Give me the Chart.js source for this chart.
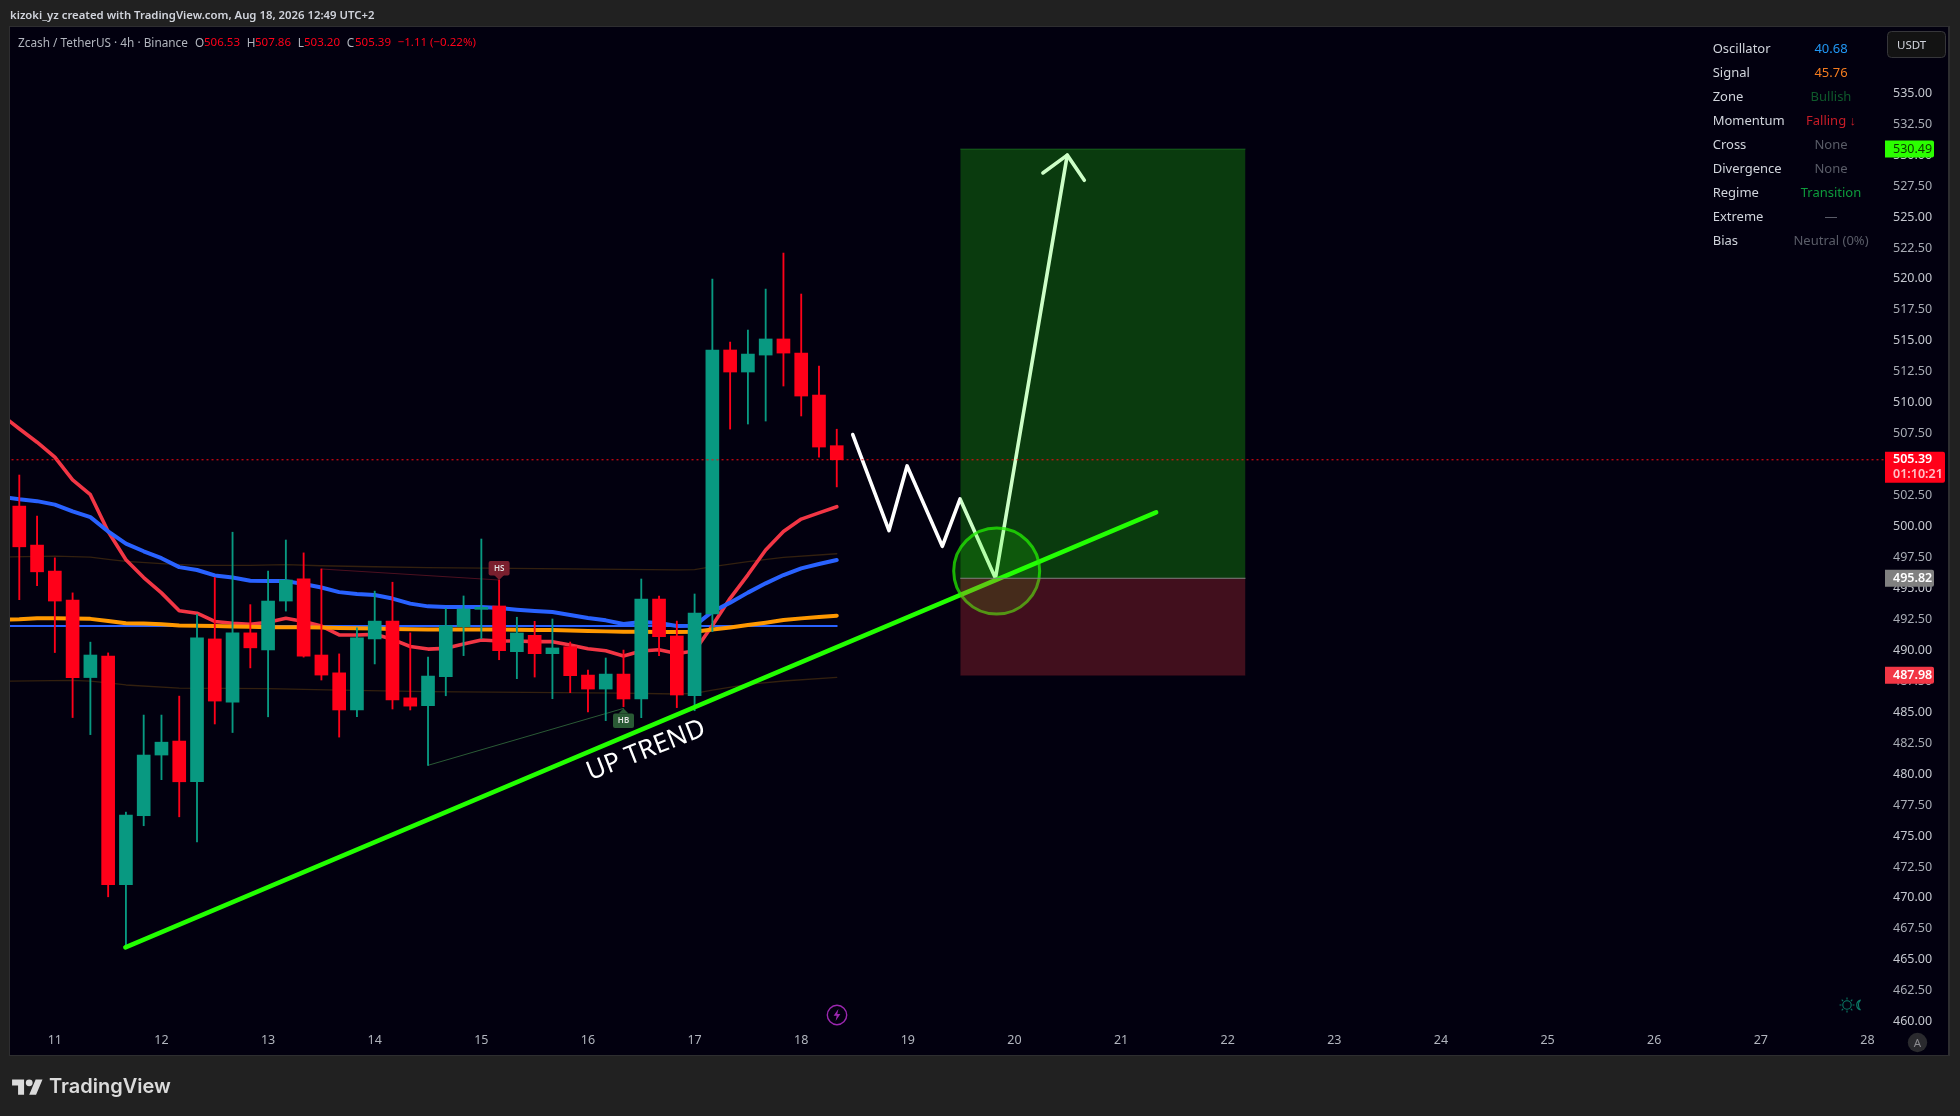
<!DOCTYPE html>
<html>
<head>
<meta charset="utf-8">
<title>Zcash / TetherUS 4h</title>
<script src="https://cdn.jsdelivr.net/npm/chart.js@4"></script>
<style>
html, body { margin: 0; padding: 0; background: #212121; overflow: hidden; }
#wrap { position: relative; width: 1960px; height: 1116px; }
#chart { position: absolute; left: 0; top: 0; }
.txt { position: absolute; white-space: nowrap; font-family: "Noto Sans", sans-serif; font-size: 11.8px; line-height: 16px; transform: translateY(-50%); }
.mid { transform: translate(-50%, -50%); }
</style>
</head>
<body>
<div id="wrap"><canvas id="chart" width="1960" height="1116"></canvas></div>
<script>
// candles, one every 4h
const opens = [501.65, 498.50, 496.40, 494.06, 487.80, 489.53, 471.07, 476.64, 481.54, 482.67, 479.38, 490.92, 485.81, 491.41, 490.03, 493.98, 495.77, 489.62, 488.18, 485.18, 490.92, 492.36, 486.16, 485.53, 487.87, 491.91, 493.31, 493.58, 489.89, 491.21, 489.73, 490.29, 488.00, 486.87, 488.08, 486.07, 494.14, 491.16, 486.33, 492.93, 514.26, 512.48, 513.85, 515.15, 514.01, 510.62, 506.53];
const highs = [504.16, 500.84, 497.47, 494.64, 490.66, 489.79, 476.93, 484.77, 484.77, 486.30, 492.91, 495.88, 499.54, 493.69, 496.40, 498.91, 497.87, 496.57, 489.71, 491.81, 494.78, 495.50, 491.41, 489.46, 493.39, 494.39, 498.99, 495.68, 492.67, 492.34, 492.53, 490.67, 488.41, 489.38, 490.02, 495.76, 494.39, 492.36, 494.55, 519.99, 514.90, 515.87, 519.18, 522.09, 518.78, 512.96, 507.86];
const lows = [494.09, 495.22, 489.82, 484.57, 483.19, 470.09, 465.99, 475.83, 479.55, 476.55, 474.53, 484.05, 483.36, 488.58, 484.63, 493.17, 489.45, 487.60, 482.99, 484.63, 488.90, 485.26, 485.18, 480.71, 486.33, 489.57, 490.94, 489.24, 487.71, 487.84, 486.09, 486.58, 485.02, 484.32, 485.45, 484.56, 489.57, 485.37, 485.12, 491.50, 507.87, 508.28, 508.52, 511.35, 508.93, 505.61, 503.20];
const closes = [498.36, 496.34, 493.98, 487.80, 489.62, 471.07, 476.70, 481.54, 482.58, 479.38, 491.00, 485.90, 491.41, 490.20, 493.98, 495.68, 489.53, 488.00, 485.18, 491.00, 492.36, 485.99, 485.49, 487.92, 491.99, 493.34, 493.47, 489.97, 491.40, 489.73, 490.19, 487.95, 486.87, 488.08, 486.07, 494.14, 491.10, 486.39, 493.00, 514.26, 512.48, 513.93, 515.15, 514.01, 510.54, 506.42, 505.39];

// moving averages, first value sits one bar left of the first candle
const redLine = [509.00, 507.90, 506.81, 505.60, 503.76, 502.57, 499.60, 497.32, 495.88, 494.64, 493.20, 493.00, 492.33, 492.19, 492.10, 492.27, 492.59, 492.33, 491.96, 491.24, 491.24, 491.29, 490.89, 490.31, 490.10, 490.16, 490.51, 490.83, 490.75, 490.75, 490.70, 490.70, 490.43, 490.13, 489.97, 489.54, 489.94, 490.05, 489.75, 489.94, 492.00, 494.20, 496.10, 498.10, 499.60, 500.60, 501.10, 501.60];
const blueLine = [502.40, 502.20, 502.05, 501.77, 501.22, 500.76, 499.60, 498.62, 498.00, 497.44, 496.72, 496.49, 496.05, 495.88, 495.62, 495.59, 495.59, 495.36, 495.07, 494.70, 494.55, 494.47, 494.18, 493.77, 493.55, 493.50, 493.50, 493.50, 493.42, 493.28, 493.17, 493.09, 492.85, 492.61, 492.42, 492.12, 492.29, 492.20, 491.96, 491.99, 493.12, 493.85, 494.66, 495.41, 496.08, 496.62, 496.97, 497.29];
const orangeLine = [492.48, 492.50, 492.59, 492.59, 492.56, 492.54, 492.36, 492.19, 492.16, 492.10, 492.01, 491.99, 491.96, 491.93, 491.90, 491.87, 491.87, 491.87, 491.84, 491.81, 491.79, 491.76, 491.73, 491.70, 491.68, 491.68, 491.68, 491.68, 491.68, 491.67, 491.65, 491.64, 491.61, 491.56, 491.53, 491.50, 491.50, 491.48, 491.48, 491.50, 491.69, 491.85, 492.04, 492.23, 492.45, 492.58, 492.69, 492.80];
const flatBlueX = [-1, 46];
const flatBlue = [491.96, 491.96];

const upperBandX = [-1, 2, 4, 5, 6, 8, 10, 13, 15, 17, 20, 23, 34, 37, 38, 39, 41, 43, 46];
const upperBand = [497.53, 497.61, 497.53, 497.35, 497.18, 497.00, 496.86, 496.86, 496.92, 496.83, 496.75, 496.68, 496.54, 496.50, 496.52, 496.76, 497.16, 497.51, 497.80];
const lowerBandX = [-1, 3, 4, 5, 6, 9, 14, 18, 23, 34, 37, 38, 39, 41, 43, 46];
const lowerBand = [487.51, 487.57, 487.51, 487.37, 487.20, 486.94, 486.91, 486.79, 486.67, 486.55, 486.47, 486.52, 486.79, 487.25, 487.52, 487.82];

// divergence lines from the indicator
const bearDivX = [17, 27];
const bearDiv = [496.57, 495.68];
const bullDivX = [23, 34];
const bullDiv = [480.71, 485.31];

// drawings
const trendX = [5.97, 63.97];
const trendY = [466.00, 501.15];
const pathX = [46.9, 48.94, 49.96, 51.94, 52.94, 54.93, 58.97];
const pathY = [507.43, 499.67, 504.90, 498.40, 502.23, 495.82, 530.00];
const headX = [57.6, 58.97, 59.93];
const headY = [528.56, 530.00, 527.97];
const circleX = [55.0];
const circleY = [496.4];
const boxX = [52.95, 69];
const targetPrice = 530.49;
const entryPrice = 495.82;
const stopPrice = 487.98;
const lastPrice = 505.39;

// axes
const priceTicks = [460, 462.5, 465, 467.5, 470, 472.5, 475, 477.5, 480, 482.5, 485, 487.5, 490, 492.5, 495, 497.5, 500, 502.5, 505, 507.5, 510, 512.5, 515, 517.5, 520, 522.5, 525, 527.5, 530, 532.5, 535];
const dayTicks = [2, 8, 14, 20, 26, 32, 38, 44, 50, 56, 62, 68, 74, 80, 86, 92, 98, 104];
const dayLabels = ["11", "12", "13", "14", "15", "16", "17", "18", "19", "20", "21", "22", "23", "24", "25", "26", "27", "28"];

// indicator table
const tableNames = ["Oscillator", "Signal", "Zone", "Momentum", "Cross", "Divergence", "Regime", "Extreme", "Bias"];
const tableValues = ["40.68", "45.76", "Bullish", "Falling ↓", "None", "None", "Transition", "—", "Neutral (0%)"];
const tableColors = ["#2196f3", "#f57c1f", "#0f5a2c", "#c81c28", "#5a5c68", "#5a5c68", "#0e9a3c", "#5a5c68", "#5a5c68"];

const BG = "#02000f";
const UP = "#089981";
const DOWN = "#ff0019";
const FONT = '"Noto Sans", sans-serif';

function points(xs, ys) {
    return xs.map((x, i) => ({ x: x, y: ys[i] }));
}

function lineSet(xs, ys, color, width, order, extra) {
    return Object.assign({
        type: "line",
        data: points(xs, ys),
        borderColor: color,
        borderWidth: width,
        pointRadius: 0,
        tension: 0,
        fill: false,
        borderJoinStyle: "round",
        borderCapStyle: "round",
        order: order
    }, extra || {});
}

let barIndex = opens.map((v, i) => i);
let maIndex = redLine.map((v, i) => i - 1);
let candleColors = opens.map((v, i) => closes[i] >= v ? UP : DOWN);

function drawTag(ctx, y, top, height, width, fill, text, color, weight) {
    ctx.fillStyle = fill;
    ctx.beginPath();
    ctx.roundRect(1885, top, width, height, [0, 2, 2, 0]);
    ctx.fill();
    ctx.fillStyle = color;
    ctx.font = (weight || "400") + " 12.5px " + FONT;
    ctx.textAlign = "left";
    ctx.textBaseline = "middle";
    ctx.fillText(text, 1893, y);
}

function drawMarker(ctx, x, y, text, fill, down) {
    // little flag sitting on the pivot bar
    let top = down ? y - 19 : y + 5;
    ctx.fillStyle = fill;
    ctx.beginPath();
    ctx.roundRect(x - 10.5, top, 21, 14.5, 2);
    ctx.fill();
    ctx.beginPath();
    if (down) {
        ctx.moveTo(x - 5, y - 5);
        ctx.lineTo(x, y);
        ctx.lineTo(x + 5, y - 5);
    } else {
        ctx.moveTo(x - 5, y + 5);
        ctx.lineTo(x, y);
        ctx.lineTo(x + 5, y + 5);
    }
    ctx.fill();
    ctx.fillStyle = "#e4e4e4";
    ctx.font = "600 8px " + FONT;
    ctx.textAlign = "center";
    ctx.textBaseline = "middle";
    ctx.fillText(text, x, top + 7.5);
}

const tvPlugin = {
    id: "tvPlugin",
    beforeDraw(chart) {
        let ctx = chart.ctx;
        ctx.save();
        ctx.fillStyle = "#212121";
        ctx.fillRect(0, 0, 1960, 1116);
        ctx.fillStyle = "#2e2e30";
        ctx.fillRect(9, 26, 1941, 1030);
        ctx.fillStyle = BG;
        ctx.fillRect(10, 27, 1938, 1028);
        ctx.restore();
    },
    afterDatasetsDraw(chart) {
        let ctx = chart.ctx;
        let xs = chart.scales.x;
        let ys = chart.scales.y;
        ctx.save();
        drawMarker(ctx, xs.getPixelForValue(27), ys.getPixelForValue(495.68), "HS", "#7a1f2e", true);
        drawMarker(ctx, xs.getPixelForValue(34), ys.getPixelForValue(485.31), "HB", "#2a5a35", false);

        // label follows the trendline
        ctx.translate(xs.getPixelForValue(35.27), ys.getPixelForValue(481.9));
        ctx.rotate(-21.5 * Math.PI / 180);
        ctx.fillStyle = "#ffffff";
        ctx.font = "400 26px " + FONT;
        ctx.textAlign = "center";
        ctx.textBaseline = "middle";
        ctx.fillText("UP TREND", 0, 0);
        ctx.restore();
    },
    afterDraw(chart) {
        let ctx = chart.ctx;
        let ys = chart.scales.y;
        ctx.save();
        drawTag(ctx, ys.getPixelForValue(targetPrice), ys.getPixelForValue(targetPrice) - 8.5, 17, 49, "#2bff00", targetPrice.toFixed(2), "#0b3a00");
        drawTag(ctx, ys.getPixelForValue(entryPrice), ys.getPixelForValue(entryPrice) - 8.5, 17, 49, "#808080", entryPrice.toFixed(2), "#ffffff", "600");
        drawTag(ctx, ys.getPixelForValue(stopPrice), ys.getPixelForValue(stopPrice) - 8.5, 17, 49, "#f23645", stopPrice.toFixed(2), "#ffffff", "600");
        let lastY = ys.getPixelForValue(lastPrice);
        drawTag(ctx, lastY, lastY - 8, 31, 60, DOWN, lastPrice.toFixed(2), "#ffffff", "600");
        ctx.fillStyle = "#ffc0c6";
        ctx.fillText("01:10:21", 1893, lastY + 15);
        ctx.restore();
    }
};

new Chart(document.getElementById("chart"), {
    type: "bar",
    data: {
        datasets: [
            // top of the stack first: the position boxes cover the drawings
            lineSet([-1, 105], [lastPrice, lastPrice], "#ff0a14", 1, 0, { borderDash: [2, 3], borderCapStyle: "butt" }),
            lineSet(boxX, [entryPrice, entryPrice], "#808080", 1, 1, { borderCapStyle: "butt" }),
            lineSet(boxX, [targetPrice, targetPrice], "rgba(50,190,60,0.35)", 1, 2, { fill: { value: entryPrice }, backgroundColor: "rgba(40,255,12,0.23)", borderCapStyle: "butt" }),
            lineSet(boxX, [stopPrice, stopPrice], "rgba(255,60,70,0.1)", 1, 2, { fill: { value: entryPrice }, backgroundColor: "rgba(255,60,70,0.25)", borderCapStyle: "butt" }),
            {
                type: "scatter",
                data: points(circleX, circleY),
                pointRadius: 43,
                pointHoverRadius: 43,
                backgroundColor: "rgba(40,255,0,0.15)",
                borderColor: "rgba(35,235,0,0.75)",
                borderWidth: 3,
                order: 3
            },
            lineSet(trendX, trendY, "#22ff00", 4.6, 4),
            lineSet(headX, headY, "#ffffff", 3.6, 5),
            lineSet(pathX, pathY, "#ffffff", 3.6, 5),
            {
                type: "bar",
                data: barIndex.map((x, i) => ({ x: x, y: [opens[i], closes[i]] })),
                backgroundColor: candleColors,
                barThickness: 13,
                grouped: false,
                order: 6
            },
            {
                type: "bar",
                data: barIndex.map((x, i) => ({ x: x, y: [lows[i], highs[i]] })),
                backgroundColor: candleColors,
                barThickness: 1.2,
                grouped: false,
                order: 7
            },
            lineSet(bullDivX, bullDiv, "#2a5a35", 1, 8),
            lineSet(bearDivX, bearDiv, "#4c1020", 1.2, 8),
            lineSet(maIndex, orangeLine, "#ff9800", 4, 9),
            lineSet(flatBlueX, flatBlue, "#2962ff", 2, 10),
            lineSet(maIndex, blueLine, "#2962ff", 4, 9),
            lineSet(maIndex, redLine, "#f23645", 3.6, 9),
            lineSet(upperBandX, upperBand, "#33200f", 1.3, 11),
            lineSet(lowerBandX, lowerBand, "#33200f", 1.3, 11)
        ]
    },
    plugins: [tvPlugin],
    options: {
        responsive: false,
        animation: false,
        events: [],
        // autoPadding off, or the big circle point pushes the plot area in
        layout: { autoPadding: false, padding: { left: 10, top: 27, right: 11, bottom: 60 } },
        plugins: { legend: { display: false }, tooltip: { enabled: false } },
        scales: {
            x: {
                type: "linear",
                offset: false,
                min: -0.523,
                max: 104.93,
                grid: { display: false, drawTicks: false },
                border: { display: false },
                afterBuildTicks(scale) { scale.ticks = dayTicks.map(v => ({ value: v })); },
                afterFit(scale) { scale.height = 26; },
                ticks: {
                    autoSkip: false,
                    maxRotation: 0,
                    padding: 3,
                    color: "#b2b5be",
                    font: { family: FONT, size: 12.5 },
                    callback(value) { return dayLabels[dayTicks.indexOf(value)]; }
                }
            },
            y: {
                position: "right",
                min: 459.33,
                max: 540.35,
                grid: { display: false, drawTicks: false },
                border: { display: false },
                afterBuildTicks(scale) { scale.ticks = priceTicks.map(v => ({ value: v })); },
                afterFit(scale) { scale.width = 65; },
                ticks: {
                    autoSkip: false,
                    padding: 9,
                    color(ctx) { return ctx.tick.value % 5 === 0 ? "#c4c6ce" : "#a8abb4"; },
                    font: { family: FONT, size: 12.5 },
                    callback(value) { return value.toFixed(2); }
                }
            }
        }
    }
});

// page text around the chart
let wrap = document.getElementById("wrap");

function addText(text, x, y, color, opts) {
    let el = document.createElement("div");
    el.className = "txt";
    el.innerText = text;
    el.style.left = x + "px";
    el.style.top = y + "px";
    el.style.color = color;
    if (opts) {
        if (opts.center) el.classList.add("mid");
        if (opts.size) el.style.fontSize = opts.size + "px";
        if (opts.weight) el.style.fontWeight = opts.weight;
        if (opts.family) el.style.fontFamily = opts.family;
    }
    wrap.appendChild(el);
    return el;
}

function addSvg(markup) {
    let holder = document.createElement("div");
    holder.innerHTML = markup;
    holder.firstChild.style.position = "absolute";
    wrap.appendChild(holder.firstChild);
}

addText("kizoki_yz created with TradingView.com, Aug 18, 2026 12:49 UTC+2", 10, 14.7, "#d1d4dc", { weight: 600, size: 11.35 });

addText("Zcash / TetherUS · 4h · Binance", 18, 41.5, "#b2b5be", { size: 11.8 });
addText("O", 195, 41.5, "#b2b5be");
addText("506.53", 204, 41.5, DOWN, { size: 11.5 });
addText("H", 246.7, 41.5, "#b2b5be");
addText("507.86", 255, 41.5, DOWN, { size: 11.5 });
addText("L", 297.7, 41.5, "#b2b5be");
addText("503.20", 304, 41.5, DOWN, { size: 11.5 });
addText("C", 346.7, 41.5, "#b2b5be");
addText("505.39", 355, 41.5, DOWN, { size: 11.5 });
addText("−1.11 (−0.22%)", 397.7, 41.5, DOWN, { size: 11.5 });

for (let r = 0; r < tableNames.length; r++) {
    let rowY = 48.3 + r * 24;
    addText(tableNames[r], 1712.7, rowY, "#d1d4dc", { size: 13 });
    addText(tableValues[r], 1831, rowY, tableColors[r], { size: 13, center: true });
}

addSvg('<svg style="left:1887px;top:31px" width="60" height="27"><rect x="0.5" y="0.5" width="58" height="26" rx="4" fill="#131313" stroke="#36363a"/></svg>');
addText("USDT", 1897, 44.5, "#d1d4dc", { size: 11.5 });

// bolt and session marks
addSvg('<svg style="left:825px;top:1003px" width="24" height="24" viewBox="0 0 24 24"><circle cx="12" cy="12" r="9.7" fill="none" stroke="#9c27b0" stroke-width="1.4"/><path d="M13.4 6 L8.6 12.8 H11.7 L10.6 18 L15.4 11 H12.3 Z" fill="#9c27b0"/></svg>');
addSvg('<svg style="left:1838px;top:996px" width="28" height="18" viewBox="0 0 28 18" fill="none" stroke="#0b7a66" stroke-width="1.1"><circle cx="9" cy="9" r="4.2"/><path d="M9 1.5V3.5M9 14.5V16.5M1.5 9H3.5M14.5 9H16.5M3.7 3.7L5.1 5.1M12.9 12.9L14.3 14.3M3.7 14.3L5.1 12.9M12.9 5.1L14.3 3.7"/><path d="M22.5 4A5.2 5.2 0 0 0 22.5 14A7 7 0 0 1 22.5 4Z"/></svg>');
addSvg('<svg style="left:1907px;top:1032px" width="21" height="21"><circle cx="10.5" cy="10.5" r="9.7" fill="#2a2a2e"/></svg>');
addText("A", 1917.4, 1042.5, "#8a8a8e", { size: 11.5, center: true });

// logo
addSvg('<svg style="left:12px;top:1076px" width="31" height="24" viewBox="0 0 36 28" fill="#dbdbdb"><path d="M14 22H7V11H0V4h14v18zM28 22h-8l7.5-18h8L28 22z"/><circle cx="20" cy="8" r="4"/></svg>');
addText("TradingView", 49, 1086, "#dbdbdb", { size: 20, weight: 600, family: "Inter, sans-serif" });
</script>
</body>
</html>
